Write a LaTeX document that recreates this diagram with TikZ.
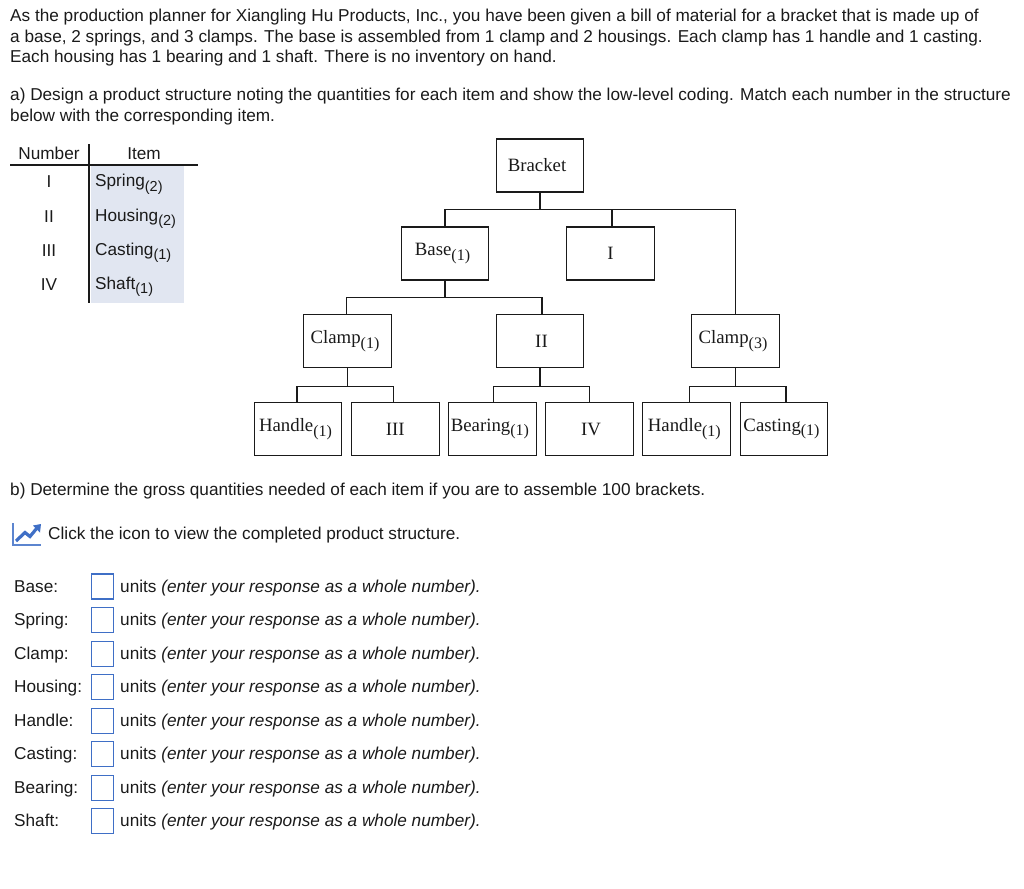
\documentclass[tikz,border=0pt]{standalone}
\usepackage{fontspec}
\setmainfont{Liberation Sans}
\newfontfamily\boxfont{Liberation Serif}
\usetikzlibrary{positioning}
\definecolor{planInk}{HTML}{1A1A1A}
\definecolor{planShade}{HTML}{E1E6F1}
\definecolor{planBlue}{HTML}{3F6FC6}
\def\subsize{14.5}
\newcommand{\qtysub}[1]{\raisebox{-4.5pt}{\fontsize{\subsize}{\subsize}\selectfont(#1)}\kern5pt}
\begin{document}
\begin{tikzpicture}[x=1pt,y=-1pt,font=\fontsize{17.2}{20}\selectfont,text=planInk,node distance=8.3pt,
      para/.style={anchor=base west,inner sep=0pt},
      cell/.style={anchor=base,inner sep=0pt},
      box/.style={draw=planInk,line width=1.1pt,minimum width=87.8pt,minimum height=53pt,inner sep=0pt,align=center,font=\def\subsize{16}\boxfont\fontsize{18.8}{20}\selectfont},
      link/.style={draw=planInk,line width=1.1pt},
      answer/.style={draw=planBlue,line width=1.2pt,fill=white,minimum width=22pt,minimum height=25pt,inner sep=0pt}]
    \useasboundingbox (0,0) rectangle (1024,888);
    \node[para] (intro1) at (10,21.500) {As the production planner for Xiangling Hu Products, Inc., you have been given a bill of material for a bracket that is made up of};
    \node[para] (intro2) at (10,42.500) {a base, 2 springs, and 3 clamps. The base is assembled from 1 clamp and 2 housings. Each clamp has 1 handle and 1 casting.};
    \node[para] (intro3) at (10,63) {Each housing has 1 bearing and 1 shaft. There is no inventory on hand.};
    \node[para] (parta1) at (10,100.500) {a) Design a product structure noting the quantities for each item and show the low-level coding. Match each number in the structure};
    \node[para] (parta2) at (10,121.500) {below with the corresponding item.};
    \fill[planShade] (91,165) rectangle (184,303);
    \draw[planInk,line width=1.2pt] (10,165) -- (198,165);
    \draw[planInk,line width=1.2pt] (89,144) -- (89,303);
    \node[cell] (numhead) at (49,159) {Number};
    \node[cell] (itemhead) at (144,159) {Item};
    \node[cell] (num1) at (49,187) {I};
    \node[cell] (num2) at (49,222) {II};
    \node[cell] (num3) at (49,256) {III};
    \node[cell] (num4) at (49,290) {IV};
    \node[para] (item1) at (95,186.500) {Spring\qtysub{2}};
    \node[para] (item2) at (95,221) {Housing\qtysub{2}};
    \node[para] (item3) at (95,255) {Casting\qtysub{1}};
    \node[para] (item4) at (95,289) {Shaft\qtysub{1}};
    \node[box] (bracket) at (540,165.500) {Bracket\kern6pt};
    \node[box] (base) at (445,253.500) {Base\qtysub{1}};
    \node[box] (itemI) at (610.500,253.500) {I};
    \node[box] (clampA) at (347.500,341) {Clamp\qtysub{1}};
    \node[box] (itemII) at (540,341) {\kern3pt II};
    \node[box] (clampB) at (735.500,341) {Clamp\qtysub{3}};
    \node[box] (handleA) at (298,429) {Handle\qtysub{1}};
    \node[box,right=of handleA] (itemIII) {III};
    \node[box,right=of itemIII] (bearing) {Bearing\qtysub{1}};
    \node[box,right=of bearing] (itemIV) {\kern3pt IV};
    \node[box,right=of itemIV] (handleB) {Handle\qtysub{1}};
    \node[box,right=of handleB] (casting) {Casting\qtysub{1}};
    \foreach \a/\b/\s in {bracket/base/0,bracket/itemI/1.5,bracket/clampB/0,base/clampA/-1,base/itemII/2}
      \draw[link] (\a.south) -- ++(0,17) -| ([xshift=\s pt]\b.north);
    \foreach \a/\b/\s in {clampA/handleA/-1,clampA/itemIII/-2,itemII/bearing/1,itemII/itemIV/0,clampB/handleB/3,clampB/casting/2}
      \draw[link] (\a.south) -- ++(0,18) -| ([xshift=\s pt]\b.north);
    \node[para] (partb) at (10,495.500) {b) Determine the gross quantities needed of each item if you are to assemble 100 brackets.};
    \coordinate (axistop) at (12.500,523);
    \coordinate (axisend) at (41,544.500);
    \draw[planBlue!85,line width=2pt] (axistop) |- (axisend);
    \draw[planBlue,line width=3.2pt] (16,541) -- (25,532.500) -- (30,536.500) -- (37,528);
    \fill[planBlue] (33,525.500) -- (41,524) -- (40,532.500) -- cycle;
    \node[para] (clicktext) at (48,539) {Click the icon to view the completed product structure.};
    \foreach \lab [count=\i] in {Base,Spring,Clamp,Housing,Handle,Casting,Bearing,Shaft} {
      \pgfmathsetmacro{\rowy}{586.500+33.55*(\i-1)}
      \node[para] (lab\i) at (14,\rowy+5.500) {\lab:};
      \node[answer] (ans\i) at (102.500,\rowy) {};
      \node[para] (units\i) at (120,\rowy+5.500) {units \textit{(enter your response as a whole number).}};
    }
  \end{tikzpicture}
\end{document}
